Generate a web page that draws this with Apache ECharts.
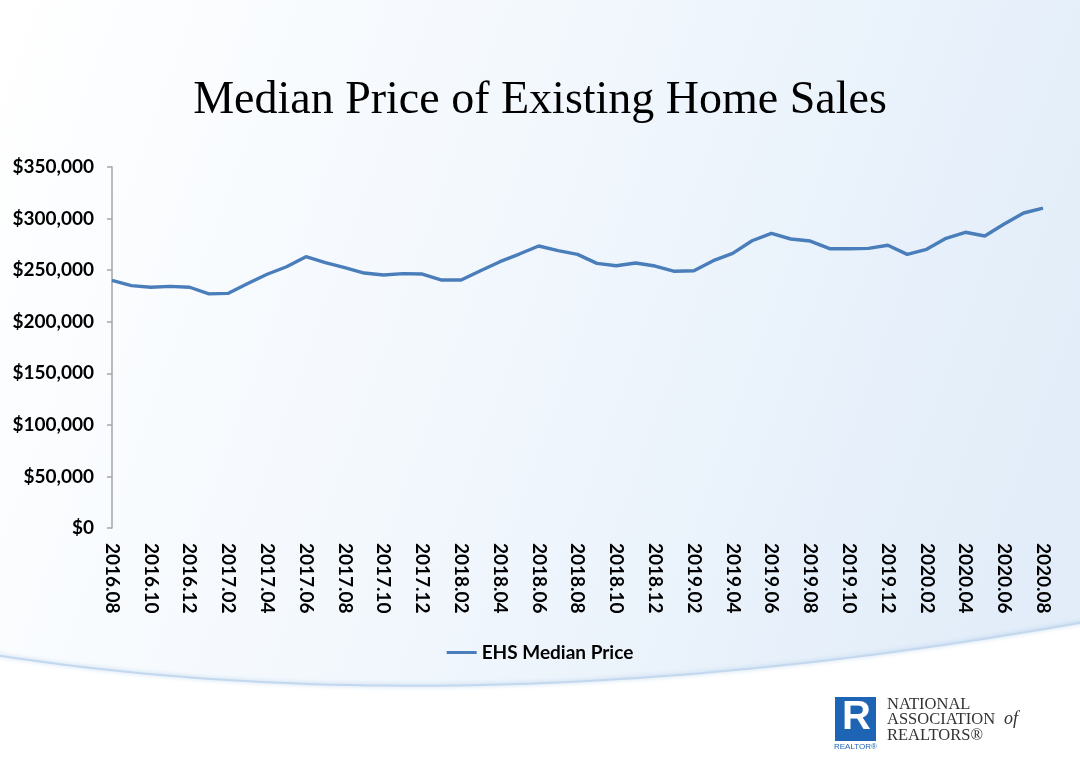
<!DOCTYPE html>
<html>
<head>
<meta charset="utf-8">
<script src="https://cdn.jsdelivr.net/npm/echarts@6/dist/echarts.min.js"></script>
<style>
html,body{margin:0;padding:0;width:1080px;height:773px;overflow:hidden;}
#chart{width:1080px;height:773px;}
</style>
</head>
<body>
<div id="chart"></div>
<script>
var title = 'Median Price of Existing Home Sales';
var seriesName = 'EHS Median Price';
var months = [
  '2016.08','2016.09','2016.10','2016.11','2016.12',
  '2017.01','2017.02','2017.03','2017.04','2017.05','2017.06','2017.07','2017.08','2017.09','2017.10','2017.11','2017.12',
  '2018.01','2018.02','2018.03','2018.04','2018.05','2018.06','2018.07','2018.08','2018.09','2018.10','2018.11','2018.12',
  '2019.01','2019.02','2019.03','2019.04','2019.05','2019.06','2019.07','2019.08','2019.09','2019.10','2019.11','2019.12',
  '2020.01','2020.02','2020.03','2020.04','2020.05','2020.06','2020.07','2020.08'
];
var medianPrice = [
  240000,235000,233400,234300,233400,
  227000,227500,237000,246000,253300,263000,257200,252400,247200,245300,246600,246200,
  240400,240400,249400,258200,265600,273400,268900,265300,256600,254300,256900,254000,
  248900,249400,259200,266300,278500,285700,280200,278200,270800,270800,271100,274100,
  265300,270200,280900,286700,283100,294700,305400,310200
];
var yTicks = [0, 350000, 50000]; // min, max, interval

var chart = echarts.init(document.getElementById('chart'), null, {renderer: 'canvas'});
function money(v){ return '$' + String(v).replace(/\B(?=(\d{3})+(?!\d))/g, ','); }

// decorative swoosh at the bottom of the slide
var swoosh = [];
(function(){
  var p0 = [-5, 655], c = [480, 730], p1 = [1085, 622];
  for (var i = 0; i <= 60; i++) {
    var t = i / 60, u = 1 - t;
    swoosh.push([u*u*p0[0] + 2*u*t*c[0] + t*t*p1[0], u*u*p0[1] + 2*u*t*c[1] + t*t*p1[1]]);
  }
})();
var swooshFill = swoosh.concat([[1085, 780], [-5, 780]]);

chart.setOption({
  backgroundColor: {
    type: 'linear', x: 0, y: 0, x2: 1, y2: 0.5,
    colorStops: [
      {offset: 0, color: '#ffffff'},
      {offset: 0.45, color: '#f3f8fd'},
      {offset: 1, color: '#e2edf9'}
    ]
  },
  animation: false,
  title: {
    text: title,
    left: 'center',
    top: 73,
    textStyle: {fontFamily: 'Liberation Serif', fontWeight: 'normal', fontSize: 46, color: '#000'}
  },
  graphic: [
    {
      type: 'polygon', z: -1, silent: true,
      shape: {points: swooshFill},
      style: {fill: '#ffffff'}
    },
    {
      type: 'polyline', z: -1, silent: true,
      shape: {points: swoosh},
      style: {fill: null, stroke: '#c3d8ee', lineWidth: 2, shadowBlur: 4, shadowColor: 'rgba(160,195,230,0.7)'}
    },
    {type: 'rect', shape: {x: 835, y: 697, width: 41, height: 44}, style: {fill: '#1e64b4'}},
    {type: 'text', left: 842, top: 698, style: {text: 'R', fill: '#ffffff', font: 'bold 40px "Liberation Sans"'}},
    {type: 'text', left: 834, top: 743, style: {text: 'REALTOR®', fill: '#1e64b4', font: '8px "Liberation Sans"'}},
    {type: 'text', left: 887, top: 696, style: {text: 'NATIONAL', fill: '#333', font: '16.5px "Liberation Serif"'}},
    {type: 'text', left: 887, top: 711, style: {text: 'ASSOCIATION', fill: '#333', font: '16.5px "Liberation Serif"'}},
    {type: 'text', left: 1004, top: 710, style: {text: 'of', fill: '#333', font: 'italic 18px "Liberation Serif"'}},
    {type: 'text', left: 887, top: 727, style: {text: 'REALTORS®', fill: '#333', font: '16.5px "Liberation Serif"'}}
  ],
  legend: {
    data: [seriesName],
    left: 'center',
    top: 638,
    itemWidth: 30,
    itemHeight: 3,
    itemGap: 4,
    icon: 'rect',
    textStyle: {fontFamily: 'Lato', fontWeight: 'bold', fontSize: 19, color: '#000'}
  },
  grid: {left: 112, right: 37, top: 167, bottom: 245, containLabel: false},
  xAxis: {
    type: 'category',
    data: months,
    boundaryGap: false,
    axisLine: {show: false},
    axisTick: {show: false},
    axisLabel: {
      interval: 1, rotate: -90, margin: 15,
      fontFamily: 'Lato', fontWeight: 'bold', fontSize: 19, color: '#000'
    },
    splitLine: {show: false}
  },
  yAxis: {
    type: 'value',
    min: yTicks[0], max: yTicks[1], interval: yTicks[2],
    axisLine: {show: true, lineStyle: {color: '#a6a6a6', width: 1.5}},
    axisTick: {show: true, length: 5, lineStyle: {color: '#a6a6a6', width: 1.5}},
    axisLabel: {
      margin: 18, formatter: money,
      fontFamily: 'Lato', fontWeight: 'bold', fontSize: 19, color: '#000'
    },
    splitLine: {show: false}
  },
  series: [{
    name: seriesName,
    type: 'line',
    data: medianPrice,
    showSymbol: false,
    symbol: 'none',
    lineStyle: {color: '#4a7ebb', width: 3.4},
    itemStyle: {color: '#4a7ebb'}
  }]
});
</script>
</body>
</html>
